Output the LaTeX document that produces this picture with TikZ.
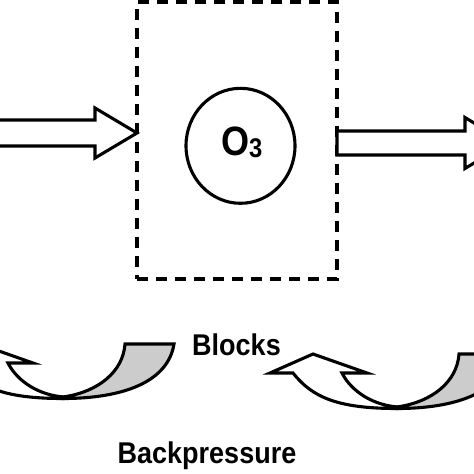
\documentclass[tikz,border=0pt]{standalone}
\usepackage{fontspec}
\setmainfont{Liberation Sans}
\usepackage{graphicx}
\usetikzlibrary{shapes.geometric}
\newcommand\bentarrow[1]{%
\begin{scope}[shift={(#1)}]
\path[frontface] (-104,-34) -- (-127,-34) -- (-84,-53) -- (-30,-34) -- (-55,-34)
  .. controls (-48,-20) and (-30,-3) .. (0,0) -- (0,1.5)
  .. controls (-60,1.5) and (-85,-10) .. (-104,-34) -- cycle;
\path[backface] (0,0) .. controls (35,-5) and (60,-25) .. (62,-53) -- (111,-53)
  .. controls (105,-15) and (60,1.5) .. (0,1.5) -- cycle;
\end{scope}}
\begin{document}
\begin{tikzpicture}[x=1pt,y=-1pt,line width=3.1pt,
  box/.style={draw,line width=3.5pt,dash pattern=on 11pt off 8pt,inner sep=0pt},
  fatarrow/.style={draw,fill=white,line join=miter},
  frontface/.style={draw,fill=white},
  backface/.style={draw,fill=gray!40},
  lab/.style={inner sep=0pt,anchor=base,font=\bfseries\fontsize{30}{30}\selectfont}]
\useasboundingbox (0,0) rectangle (474,474);
\clip (0,0) rectangle (474,474);
% reactor box and ozone
\node[box,minimum width=200pt,minimum height=277pt] (reactor) at (237,140.5) {};
\node[draw,line width=3.1pt,ellipse,inner sep=0pt,minimum width=109pt,minimum height=115pt] (ozone) at (240.5,145.8) {};
\node[inner sep=0pt,anchor=base west,font=\bfseries] (o3) at (219.5,155)
  {\scalebox{0.88}[1]{\fontsize{41}{41}\selectfont O\raisebox{-2pt}{\fontsize{27}{27}\selectfont 3}}};
% inflow and outflow arrows
\draw[fatarrow] (-10,120) -- (95,120) -- (95,108) -- (137,133) -- (95,158) -- (95,146) -- (-10,146);
\draw[fatarrow] (337,131) -- (465,131) -- (465,117.5) -- (507,143) -- (465,168.5) -- (465,155) -- (337,155) -- cycle;
% curved arrows
\bentarrow{63,397}
\bentarrow{397,407}
% labels
\node[lab] (blocks) at (236.5,355) {\scalebox{0.9}[1]{Blocks}};
\node[lab] (bp) at (207,463) {\scalebox{0.9}[1]{Backpressure}};
\end{tikzpicture}
\end{document}
